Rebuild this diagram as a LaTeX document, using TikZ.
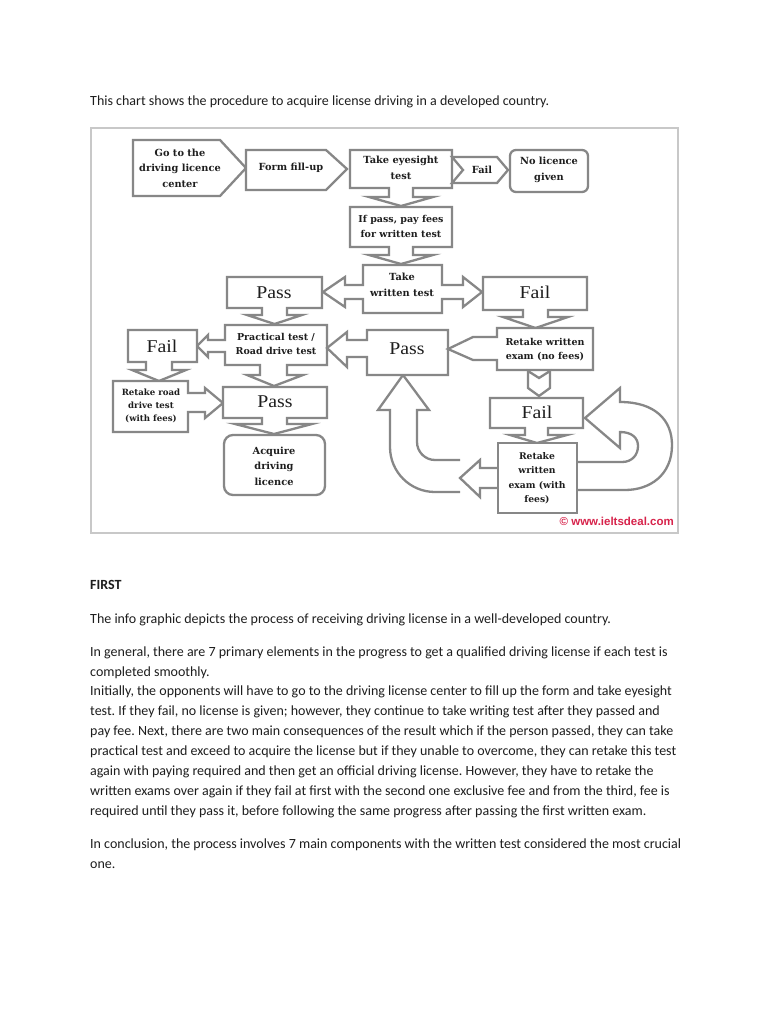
\documentclass[tikz,border=0pt]{standalone}
\usepackage{fontspec}
\setmainfont{Carlito}
\newfontfamily\dlab{DejaVu Serif}
\newfontfamily\dbig[FakeStretch=1.1]{Liberation Serif}
\newfontfamily\dsans{Liberation Sans}
\definecolor{sg}{RGB}{135,135,135}
\definecolor{txt}{RGB}{30,30,30}
\definecolor{framec}{RGB}{200,200,200}
\definecolor{wm}{RGB}{215,35,75}
\frenchspacing
\begin{document}
\begin{tikzpicture}[x=1pt,y=-1pt,
  shp/.style={draw=sg,line width=2.3pt,fill=white,line join=miter},
  lbl/.style={font=\dlab\bfseries\fontsize{9.8}{15.5}\selectfont,align=center,text=txt,inner sep=0pt},
  big/.style={font=\dbig\fontsize{18}{20}\selectfont,text=txt,inner sep=0pt},
  body/.style={font=\fontsize{14}{16}\selectfont,text=txt,anchor=base west,inner sep=0pt}]
\useasboundingbox[fill=white] (0,0) rectangle (768,1024);

% page text above
\node[body] (intro) at (90,106) {This chart shows the procedure to acquire license driving in a developed country.};

% diagram frame
\draw[framec,line width=1.5pt] (91,128) rectangle (678,533);

% ---- curved band (left) and its feeding arrow
\path[shp] (460,492) -- (435,492) .. controls (410.1,492) and (390,471.9) .. (390,447) -- (390,410) -- (378,410) -- (403,375) -- (429,410) -- (417,410) -- (417,442) .. controls (417,451.9) and (425.1,460) .. (435,460) -- (460,460);
\path[shp] (498,468) -- (480,468) -- (480,460) -- (460,478) -- (480,497) -- (480,488) -- (498,488);
% ---- loop (right)
\path[shp] (577,490) -- (625,490) .. controls (650,490) and (672,475) .. (672,445) .. controls (672,420) and (655,402) .. (620,402) -- (620,388) -- (585,418) -- (620,448) -- (620,432) .. controls (632,432) and (638,438) .. (638,446) .. controls (638,455) and (632,462) .. (622,462) -- (577,462);

% ---- row 1
\path[shp] (133,140) -- (220,140) -- (246,168) -- (220,196) -- (133,196) -- cycle;
\node[lbl] (goto) at (180,168) {Go to the\\driving licence\\center};
\path[shp] (246,150) -- (326,150) -- (347,169) -- (326,190) -- (246,190) -- cycle;
\node[lbl] (form) at (291,168) {Form fill-up};
\path[shp] (350,150) -- (452,150) -- (452,188) -- (413,188) -- (413,197) -- (433,197) -- (401,206) -- (369,197) -- (389,197) -- (389,188) -- (350,188) -- cycle;
\node[lbl,font=\dlab\bfseries\fontsize{9.8}{16}\selectfont] (eye) at (401,168) {Take eyesight\\test};
\path[shp] (452,157) -- (497,157) -- (508,170) -- (497,183) -- (452,183) -- (463,170) -- cycle;
\node[lbl] (fail1) at (482,170) {Fail};
\draw[shp,rounded corners=6pt] (510,150) rectangle (588,192);
\node[lbl,font=\dlab\bfseries\fontsize{9.8}{16}\selectfont] (nolic) at (549,170) {No licence\\given};

% ---- row 2
\path[shp] (350,207) -- (452,207) -- (452,247) -- (413,247) -- (413,255) -- (433,255) -- (401,264) -- (369,255) -- (389,255) -- (389,247) -- (350,247) -- cycle;
\node[lbl,font=\dlab\bfseries\fontsize{9.5}{15}\selectfont] (ifpass) at (401,226) {If pass, pay fees\\for written test};

% ---- row 3
\path[shp] (363,265) -- (442,265) -- (442,285) -- (463,285) -- (463,277) -- (482,292) -- (463,307) -- (463,299) -- (442,299) -- (442,313) -- (363,313) -- (363,299) -- (345,299) -- (345,307) -- (323,292) -- (345,277) -- (345,285) -- (363,285) -- cycle;
\node[lbl,font=\dlab\bfseries\fontsize{9.8}{16}\selectfont] (takew) at (402,285) {Take\\written test};
\path[shp] (227,277) -- (322,277) -- (322,308) -- (287,308) -- (287,315) -- (302,315) -- (274.5,324) -- (247,315) -- (262,315) -- (262,308) -- (227,308) -- cycle;
\node[big] (pass1) at (274,293) {Pass};
\path[shp] (483,277) -- (587,277) -- (587,310) -- (548,310) -- (548,317) -- (568,317) -- (535.5,328) -- (503,317) -- (523,317) -- (523,310) -- (483,310) -- cycle;
\node[big] (fail2) at (535,292) {Fail};

% ---- row 4
\path[shp] (225,325) -- (327,325) -- (327,365) -- (287,365) -- (287,375) -- (303,375) -- (274,386) -- (247,375) -- (260,375) -- (260,365) -- (225,365) -- (225,352) -- (208,352) -- (208,357) -- (197,346) -- (208,335) -- (208,340) -- (225,340) -- cycle;
\node[lbl,font=\dlab\bfseries\fontsize{9.5}{14}\selectfont] (prac) at (276,344) {Practical test /\\Road drive test};
\path[shp] (128,330) -- (197,330) -- (197,362) -- (172,362) -- (172,370) -- (186,370) -- (159,381) -- (132,370) -- (146,370) -- (146,362) -- (128,362) -- cycle;
\node[big] (fail3) at (162,346) {Fail};
\path[shp] (367,330) -- (448,330) -- (448,375) -- (367,375) -- (367,357) -- (347,357) -- (347,367) -- (327,348) -- (347,332) -- (347,340) -- (367,340) -- cycle;
\node[big] (pass2) at (407,349) {Pass};
\path[shp] (497,328) -- (593,328) -- (593,370) -- (497,370) -- (497,360) -- (473,360) -- (448,349) -- (473,337) -- (497,337) -- cycle;
\node[lbl,font=\dlab\bfseries\fontsize{9.5}{14}\selectfont] (retw) at (545,350) {Retake written\\exam (no fees)};
\path[shp] (528,371) -- (539,378) -- (550,371) -- (550,388) -- (539,396) -- (528,388) -- cycle;

% ---- row 5
\path[shp] (113,381) -- (188,381) -- (188,393) -- (205,393) -- (205,388) -- (223,403) -- (205,418) -- (205,412) -- (188,412) -- (188,432) -- (113,432) -- cycle;
\node[lbl,font=\dlab\bfseries\fontsize{8.6}{13}\selectfont] (retr) at (151,406) {Retake road\\drive test\\(with fees)};
\path[shp] (223,387) -- (327,387) -- (327,418) -- (287,418) -- (287,424) -- (312,424) -- (274,434) -- (235,424) -- (262,424) -- (262,418) -- (223,418) -- cycle;
\node[big] (pass3) at (275,402) {Pass};
\draw[shp,rounded corners=9pt] (224,435) rectangle (325,495);
\node[lbl] (acq) at (274,466) {Acquire\\driving\\licence};
\path[shp] (490,398) -- (583,398) -- (583,428) -- (548,428) -- (548,435) -- (567,435) -- (537,443) -- (510,435) -- (525,435) -- (525,428) -- (490,428) -- cycle;
\node[big] (fail4) at (537,412) {Fail};
\draw[shp] (498,443) rectangle (577,513);
\node[lbl,font=\dlab\bfseries\fontsize{9.2}{14.5}\selectfont] (retwf) at (537,478) {Retake\\written\\exam (with\\fees)};

\node[font=\dsans\bfseries\fontsize{11.5}{13}\selectfont,text=wm,anchor=east,inner sep=0pt] (wmk) at (674,521) {\textcopyright\ www.ieltsdeal.com};

% ---- page text below
\node[body,font=\bfseries\fontsize{14}{16}\selectfont] (first) at (90,589) {FIRST};
\node[body] (p1) at (90,623) {The info graphic depicts the process of receiving driving license in a well-developed country.};
\node[body] (p2a) at (90,656) {In general, there are 7 primary elements in the progress to get a qualified driving license if each test is};
\node[body] (p2b) at (90,676) {completed smoothly.};
\node[body] (p3a) at (90,695) {Initially, the opponents will have to go to the driving license center to fill up the form and take eyesight};
\node[body] (p3b) at (90,715) {test. If they fail, no license is given; however, they continue to take writing test after they passed and};
\node[body] (p3c) at (90,735) {pay fee. Next, there are two main consequences of the result which if the person passed, they can take};
\node[body] (p3d) at (90,755) {practical test and exceed to acquire the license but if they unable to overcome, they can retake this test};
\node[body] (p3e) at (90,775) {again with paying required and then get an official driving license. However, they have to retake the};
\node[body] (p3f) at (90,795) {written exams over again if they fail at first with the second one exclusive fee and from the third, fee is};
\node[body] (p3g) at (90,815) {required until they pass it, before following the same progress after passing the first written exam.};
\node[body] (p4a) at (90,848) {In conclusion, the process involves 7 main components with the written test considered the most crucial};
\node[body] (p4b) at (90,868) {one.};
\end{tikzpicture}
\end{document}
